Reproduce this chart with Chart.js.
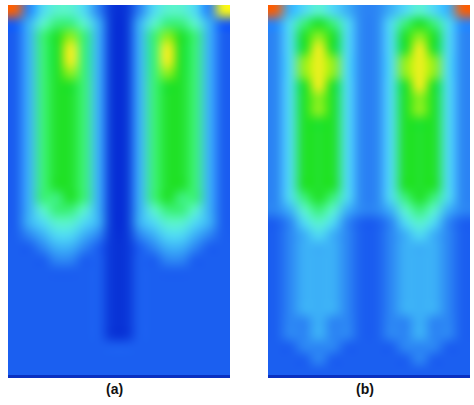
<!DOCTYPE html>
<html><head><meta charset="utf-8">
<script src="https://cdn.jsdelivr.net/npm/chart.js@4/dist/chart.umd.min.js"></script>
<style>
body{margin:0;background:#fff;width:474px;height:405px;position:relative;overflow:hidden;font-family:"Liberation Sans",Arial,sans-serif}
canvas{position:absolute}
.lab{position:absolute;font-weight:bold;font-size:14px;color:#111}
</style></head><body>
<canvas id="ca" width="222" height="373" style="left:8px;top:5px"></canvas>
<canvas id="cb" width="202" height="373" style="left:268px;top:5px"></canvas>
<div class="lab" style="left:106px;top:381px">(a)</div>
<div class="lab" style="left:356px;top:381px">(b)</div>
<script>
// contour levels, rows top to bottom (0 dark blue ... 9 yellow, o/r hot corners)
const gridA = [
  "o245542002455429",
  "1356653003566531",
  "1367863003687631",
  "1367963003697631",
  "1367963003697631",
  "1367863003687631",
  "1367763003677631",
  "1367763003677631",
  "1367763003677631",
  "1367763003677631",
  "1367763003677631",
  "1367763003677631",
  "1367763003677631",
  "1367763003677631",
  "1367763003677631",
  "1366763003676631",
  "1356653003566531",
  "1345543003455431",
  "1234432002344321",
  "1123321001233211",
  "1112211001122111",
  "1111111001111111",
  "1111111001111111",
  "1111111001111111",
  "1111111001111111",
  "1111111001111111",
  "1111111001111111",
  "1111111111111111",
  "1111111111111111",
  "1111111111111111"
];
const halvesB = [
  "2345432","2467642","2478742","2479742","2489842","2489842","2479742","2478742","2478742",
  "2477742","2477742","2477742","2477742","2477742","2477742","2467642","2356532","1245421",
  "1234321","1233321","1233321","1233321","1233321","1233321","1233321","1223221","1223221",
  "1122211","1112111","1111111"
];
const gridB = halvesB.map((h, i) => i === 0 ? "o345432234543o" : h + h);
const levelColors = {
  "0":"#0a36d8","1":"#1b5ff0","2":"#2c86f4","3":"#3cb0f7","4":"#4fd9f2",
  "5":"#58f2cc","6":"#3cf07c","7":"#22e22c","8":"#8cf01e","9":"#f0f01e",
  "o":"#f06010","r":"#e02010"
};

function hexRgb(h){return [1,3,5].map(i=>parseInt(h.substr(i,2),16));}

const fieldPlugin = {
  id:'field',
  beforeDraw(chart){
    const grid = chart.options.plugins.field.grid;
    const rows = grid.length, cols = grid[0].length;
    const off = document.createElement('canvas');
    off.width = cols; off.height = rows;
    const octx = off.getContext('2d');
    const img = octx.createImageData(cols, rows);
    grid.forEach((row, r) => {
      for (let c = 0; c < cols; c++) {
        const rgb = hexRgb(levelColors[row[c]] || levelColors["1"]);
        const k = (r*cols + c)*4;
        img.data[k]=rgb[0]; img.data[k+1]=rgb[1]; img.data[k+2]=rgb[2]; img.data[k+3]=255;
      }
    });
    octx.putImageData(img, 0, 0);
    const x = chart.scales.x, y = chart.scales.y, ctx = chart.ctx;
    const x0 = x.getPixelForValue(0), x1 = x.getPixelForValue(cols);
    const top = Math.min(y.getPixelForValue(0), y.getPixelForValue(rows));
    const bottom = Math.max(y.getPixelForValue(0), y.getPixelForValue(rows));
    ctx.save();
    ctx.imageSmoothingEnabled = true;
    ctx.imageSmoothingQuality = 'high';
    ctx.drawImage(off, x0, top, x1-x0, bottom-top);
    ctx.fillStyle = '#0a30c0';
    ctx.fillRect(x0, bottom-3, x1-x0, 3);
    ctx.restore();
  }
};

function makeChart(id, grid){
  new Chart(document.getElementById(id), {
    type:'scatter',
    data:{datasets:[{data:[]}]},
    options:{
      responsive:false, animation:false,
      layout:{padding:0},
      plugins:{legend:{display:false}, tooltip:{enabled:false}, field:{grid}},
      scales:{
        x:{display:false, min:0, max:grid[0].length},
        y:{display:false, min:0, max:grid.length, reverse:true}
      }
    },
    plugins:[fieldPlugin]
  });
}
makeChart('ca', gridA);
makeChart('cb', gridB);
</script>
</body></html>
